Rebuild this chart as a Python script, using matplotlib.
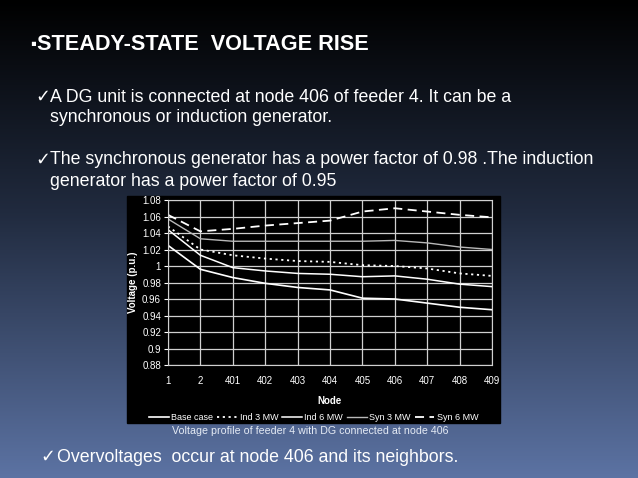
import numpy as np
import matplotlib
matplotlib.use("Agg")
import matplotlib.pyplot as plt
from matplotlib.patches import Rectangle

plt.rcParams['font.family'] = ['Liberation Sans', 'DejaVu Sans']

# data
nodes = ["1", "2", "401", "402", "403", "404", "405", "406", "407", "408", "409"]
base_case = [1.025, 0.996, 0.986, 0.979, 0.974, 0.971, 0.961, 0.960, 0.955, 0.950, 0.947]
ind_3mw = [1.048, 1.020, 1.013, 1.009, 1.006, 1.005, 1.001, 1.000, 0.997, 0.991, 0.988]
ind_6mw = [1.044, 1.013, 0.998, 0.994, 0.991, 0.990, 0.987, 0.988, 0.984, 0.978, 0.975]
syn_3mw = [1.057, 1.033, 1.030, 1.030, 1.030, 1.030, 1.030, 1.031, 1.028, 1.023, 1.020]
syn_6mw = [1.062, 1.042, 1.045, 1.049, 1.052, 1.055, 1.066, 1.070, 1.066, 1.062, 1.059]
y_ticks = [0.88, 0.90, 0.92, 0.94, 0.96, 0.98, 1.00, 1.02, 1.04, 1.06, 1.08]

W, H = 638, 478
fig = plt.figure(figsize=(W / 100, H / 100), dpi=100)

# slide background: dark at top, slate blue at bottom
bg = fig.add_axes([0, 0, 1, 1], zorder=0)
grad = np.linspace(0, 1, 256)[:, None]
top = np.array([0.0, 0.0, 0.0])
mid = np.array([0.13, 0.17, 0.25])
bot = np.array([0.36, 0.45, 0.64])
cols = np.where(grad[..., None] < 0.45,
                top + (mid - top) * (grad[..., None] / 0.45),
                mid + (bot - mid) * ((grad[..., None] - 0.45) / 0.55))
bg.imshow(np.repeat(cols, 2, axis=1), aspect='auto', extent=[0, 1, 0, 1], origin='upper')
bg.axis('off')

def fx(px):
    return px / W

def fy(py):
    return 1 - py / H

# black picture box behind the chart
bg.add_patch(Rectangle((fx(127), fy(423)), fx(500) - fx(127), fy(196) - fy(423),
                       transform=fig.transFigure, color='black', zorder=2))

fig.text(fx(30), fy(45), "\u25aa", color='white', fontsize=12, va='center', ha='left')
fig.text(fx(37), fy(45), "STEADY-STATE  VOLTAGE RISE", color='white', fontsize=15.6,
         fontweight='bold', va='center', ha='left')

body = dict(color='white', fontsize=12.8, va='center', ha='left')
fig.text(fx(35), fy(97), "\u2713", **body)
fig.text(fx(50), fy(97), "A DG unit is connected at node 406 of feeder 4. It can be a", **body)
fig.text(fx(50), fy(118), "synchronous or induction generator.", **body)
fig.text(fx(35), fy(160), "\u2713", **body)
fig.text(fx(50), fy(160), "The synchronous generator has a power factor of 0.98 .The induction", **body)
fig.text(fx(50), fy(181), "generator has a power factor of 0.95", **body)
fig.text(fx(40), fy(457), "\u2713", **body)
fig.text(fx(57), fy(457), "Overvoltages  occur at node 406 and its neighbors.", **body)

fig.text(fx(310), fy(431), "Voltage profile of feeder 4 with DG connected at node 406",
         color='#e4eaf4', fontsize=7.7, ha='center', va='center')

ax = fig.add_axes([fx(168), fy(365), fx(492) - fx(168), fy(200) - fy(365)], zorder=3)
ax.set_facecolor('black')
x = np.arange(len(nodes))
ax.plot(x, base_case, color='white', lw=1.2, label='Base case')
ax.plot(x, ind_3mw, color='white', lw=1.3, ls=(0, (1.2, 2)), label='Ind 3 MW')
ax.plot(x, ind_6mw, color='white', lw=1.1, label='Ind 6 MW')
ax.plot(x, syn_3mw, color='#b8b8b8', lw=1.0, label='Syn 3 MW')
ax.plot(x, syn_6mw, color='white', lw=1.3, ls=(0, (5, 3)), label='Syn 6 MW')

ax.set_xlim(0, len(nodes) - 1)
ax.set_ylim(0.88, 1.08)
ax.set_xticks(x)
ax.set_xticklabels(nodes)
ax.set_yticks(y_ticks)
ax.set_yticklabels([f"{v:g}" for v in y_ticks])
ax.grid(True, color='#d0d0d0', lw=0.9)
ax.set_axisbelow(True)
ax.tick_params(colors='white', labelsize=7, length=3, pad=2)
ax.tick_params(axis='x', length=0, pad=8)
for s in ax.spines.values():
    s.set_color('#d0d0d0')
ax.set_xlabel("Node", color='white', fontsize=7, fontweight='bold', labelpad=7)
ax.set_ylabel("Voltage (p.u.)", color='white', fontsize=7, fontweight='bold', labelpad=3)

leg = ax.legend(loc='upper center', bbox_to_anchor=(0.45, -0.24), ncol=5, frameon=False,
                fontsize=6.5, handlelength=2.2, handletextpad=0.3, columnspacing=0.4,
                labelcolor='white')

fig.savefig("out.png", dpi=100, facecolor='black')
